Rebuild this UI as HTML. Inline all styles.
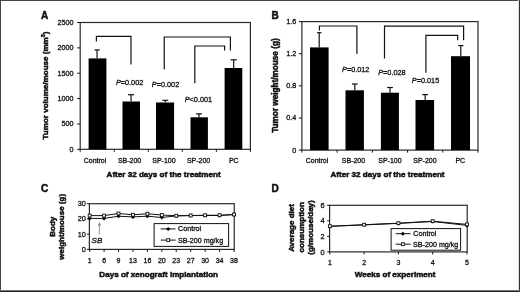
<!DOCTYPE html>
<html><head><meta charset="utf-8"><title>Figure</title>
<style>
html,body{margin:0;padding:0;background:#fff;}
body{width:520px;height:292px;overflow:hidden;position:relative;}
svg{display:block;position:absolute;left:0;top:0;font-family:"Liberation Sans",Arial,sans-serif;}
text{stroke:#111;stroke-width:0.3px;stroke-linejoin:round;}
text[font-weight="bold"]{stroke-width:0.5px;}
</style></head><body>
<svg width="520" height="292" viewBox="0 0 520 292">
<rect x="0" y="0" width="520" height="292" fill="#fff"/>

<rect x="0" y="0" width="520" height="1" fill="#444"/>
<rect x="0" y="0" width="1" height="292" fill="#444"/>
<rect x="518" y="0" width="1" height="292" fill="#ddd"/>
<rect x="519" y="0" width="1" height="292" fill="#333"/>
<rect x="0" y="290" width="520" height="1" fill="#777"/>
<rect x="0" y="291" width="520" height="1" fill="#222"/>
<rect x="80.2" y="22.5" width="170.2" height="126.80000000000001" fill="none" stroke="#2a2a2a" stroke-width="1.2"/>
<line x1="77.2" y1="22.5" x2="80.2" y2="22.5" stroke="#111" stroke-width="1"/>
<text x="73.5" y="24.9" font-size="7.2" text-anchor="end" font-weight="normal" font-style="normal" fill="#111">2500</text>
<line x1="77.2" y1="47.86" x2="80.2" y2="47.86" stroke="#111" stroke-width="1"/>
<text x="73.5" y="50.26" font-size="7.2" text-anchor="end" font-weight="normal" font-style="normal" fill="#111">2000</text>
<line x1="77.2" y1="73.22" x2="80.2" y2="73.22" stroke="#111" stroke-width="1"/>
<text x="73.5" y="75.62" font-size="7.2" text-anchor="end" font-weight="normal" font-style="normal" fill="#111">1500</text>
<line x1="77.2" y1="98.58000000000001" x2="80.2" y2="98.58000000000001" stroke="#111" stroke-width="1"/>
<text x="73.5" y="100.98000000000002" font-size="7.2" text-anchor="end" font-weight="normal" font-style="normal" fill="#111">1000</text>
<line x1="77.2" y1="123.94000000000001" x2="80.2" y2="123.94000000000001" stroke="#111" stroke-width="1"/>
<text x="73.5" y="126.34000000000002" font-size="7.2" text-anchor="end" font-weight="normal" font-style="normal" fill="#111">500</text>
<line x1="77.2" y1="149.3" x2="80.2" y2="149.3" stroke="#111" stroke-width="1"/>
<text x="73.5" y="151.70000000000002" font-size="7.2" text-anchor="end" font-weight="normal" font-style="normal" fill="#111">0</text>
<line x1="80.2" y1="149.3" x2="80.2" y2="151.8" stroke="#111" stroke-width="1"/>
<line x1="114.24000000000001" y1="149.3" x2="114.24000000000001" y2="151.8" stroke="#111" stroke-width="1"/>
<line x1="148.28" y1="149.3" x2="148.28" y2="151.8" stroke="#111" stroke-width="1"/>
<line x1="182.32" y1="149.3" x2="182.32" y2="151.8" stroke="#111" stroke-width="1"/>
<line x1="216.36" y1="149.3" x2="216.36" y2="151.8" stroke="#111" stroke-width="1"/>
<line x1="250.39999999999998" y1="149.3" x2="250.39999999999998" y2="151.8" stroke="#111" stroke-width="1"/>
<rect x="88.6" y="58.4" width="17.80000000000001" height="90.9" fill="#000"/>
<line x1="97.05000000000001" y1="49.9" x2="97.05000000000001" y2="58.4" stroke="#111" stroke-width="1.2"/>
<line x1="94.4" y1="49.9" x2="99.7" y2="49.9" stroke="#111" stroke-width="1.2"/>
<rect x="122.5" y="101.5" width="17.5" height="47.80000000000001" fill="#000"/>
<line x1="131.05" y1="94.7" x2="131.05" y2="101.5" stroke="#111" stroke-width="1.2"/>
<line x1="128" y1="94.7" x2="134.1" y2="94.7" stroke="#111" stroke-width="1.2"/>
<rect x="156" y="102.5" width="18.099999999999994" height="46.80000000000001" fill="#000"/>
<line x1="165.3" y1="100.3" x2="165.3" y2="102.5" stroke="#111" stroke-width="1.2"/>
<line x1="162.4" y1="100.3" x2="168.2" y2="100.3" stroke="#111" stroke-width="1.2"/>
<rect x="190.5" y="117.3" width="17.400000000000006" height="32.000000000000014" fill="#000"/>
<line x1="199.0" y1="113.9" x2="199.0" y2="117.3" stroke="#111" stroke-width="1.2"/>
<line x1="196" y1="113.9" x2="202" y2="113.9" stroke="#111" stroke-width="1.2"/>
<rect x="224.6" y="68" width="17.700000000000017" height="81.30000000000001" fill="#000"/>
<line x1="233.7" y1="59.8" x2="233.7" y2="68" stroke="#111" stroke-width="1.2"/>
<line x1="230.5" y1="59.8" x2="236.9" y2="59.8" stroke="#111" stroke-width="1.2"/>
<text x="95" y="162.8" font-size="7" text-anchor="middle" font-weight="normal" font-style="normal" fill="#111">Control</text>
<text x="129.6" y="162.8" font-size="7" text-anchor="middle" font-weight="normal" font-style="normal" fill="#111">SB-200</text>
<text x="163.9" y="162.8" font-size="7" text-anchor="middle" font-weight="normal" font-style="normal" fill="#111">SP-100</text>
<text x="198.6" y="162.8" font-size="7" text-anchor="middle" font-weight="normal" font-style="normal" fill="#111">SP-200</text>
<text x="233.75" y="162.8" font-size="7" text-anchor="middle" font-weight="normal" font-style="normal" fill="#111">PC</text>
<text x="115.9" y="84.6" font-size="7.3" fill="#111"><tspan font-style="italic">P</tspan>=0.002</text>
<text x="151.8" y="87.1" font-size="7.3" fill="#111"><tspan font-style="italic">P</tspan>=0.002</text>
<text x="184.7" y="102.2" font-size="7.3" fill="#111"><tspan font-style="italic">P</tspan>&lt;0.001</text>
<polyline points="96.4,41.4 96.4,36.3 131,36.3 131,64.5" fill="none" stroke="#111" stroke-width="1.2"/>
<polyline points="164.25,69.5 164.25,37 230.4,37 230.4,50.4" fill="none" stroke="#111" stroke-width="1.2"/>
<polyline points="194.8,83.3 194.8,46 224.6,46 224.6,50.4" fill="none" stroke="#111" stroke-width="1.2"/>
<text x="41.0" y="19.4" font-size="10" text-anchor="start" font-weight="bold" font-style="normal" fill="#111">A</text>
<text transform="translate(48.0 139.5) rotate(-90)" font-size="8.05" font-weight="bold" fill="#111">Tumor volume/mouse (mm<tspan font-size="5.5" dy="-2.6">3</tspan><tspan dy="2.6">)</tspan></text>
<text x="106.6" y="177" font-size="8.08" text-anchor="start" font-weight="bold" font-style="normal" fill="#111">After 32 days of the treatment</text>
<rect x="301.9" y="21.6" width="176.10000000000002" height="128.5" fill="none" stroke="#2a2a2a" stroke-width="1.2"/>
<line x1="298.9" y1="21.6" x2="301.9" y2="21.6" stroke="#111" stroke-width="1"/>
<text x="296.29999999999995" y="24.0" font-size="7.2" text-anchor="end" font-weight="normal" font-style="normal" fill="#111">1.6</text>
<line x1="298.9" y1="53.725" x2="301.9" y2="53.725" stroke="#111" stroke-width="1"/>
<text x="296.29999999999995" y="56.125" font-size="7.2" text-anchor="end" font-weight="normal" font-style="normal" fill="#111">1.2</text>
<line x1="298.9" y1="85.85" x2="301.9" y2="85.85" stroke="#111" stroke-width="1"/>
<text x="296.29999999999995" y="88.25" font-size="7.2" text-anchor="end" font-weight="normal" font-style="normal" fill="#111">0.8</text>
<line x1="298.9" y1="117.975" x2="301.9" y2="117.975" stroke="#111" stroke-width="1"/>
<text x="296.29999999999995" y="120.375" font-size="7.2" text-anchor="end" font-weight="normal" font-style="normal" fill="#111">0.4</text>
<line x1="298.9" y1="150.1" x2="301.9" y2="150.1" stroke="#111" stroke-width="1"/>
<text x="296.29999999999995" y="152.5" font-size="7.2" text-anchor="end" font-weight="normal" font-style="normal" fill="#111">0</text>
<line x1="301.9" y1="150.1" x2="301.9" y2="152.6" stroke="#111" stroke-width="1"/>
<line x1="337.12" y1="150.1" x2="337.12" y2="152.6" stroke="#111" stroke-width="1"/>
<line x1="372.34" y1="150.1" x2="372.34" y2="152.6" stroke="#111" stroke-width="1"/>
<line x1="407.56" y1="150.1" x2="407.56" y2="152.6" stroke="#111" stroke-width="1"/>
<line x1="442.78" y1="150.1" x2="442.78" y2="152.6" stroke="#111" stroke-width="1"/>
<line x1="478.0" y1="150.1" x2="478.0" y2="152.6" stroke="#111" stroke-width="1"/>
<rect x="310" y="47.4" width="18.600000000000023" height="102.69999999999999" fill="#000"/>
<line x1="319.2" y1="32.7" x2="319.2" y2="47.4" stroke="#111" stroke-width="1.2"/>
<line x1="316.9" y1="32.7" x2="321.5" y2="32.7" stroke="#111" stroke-width="1.2"/>
<rect x="345.5" y="90.3" width="18.399999999999977" height="59.8" fill="#000"/>
<line x1="354.79999999999995" y1="84" x2="354.79999999999995" y2="90.3" stroke="#111" stroke-width="1.2"/>
<line x1="351.9" y1="84" x2="357.7" y2="84" stroke="#111" stroke-width="1.2"/>
<rect x="380.9" y="92.7" width="18.0" height="57.39999999999999" fill="#000"/>
<line x1="390.0" y1="87.5" x2="390.0" y2="92.7" stroke="#111" stroke-width="1.2"/>
<line x1="387.1" y1="87.5" x2="392.9" y2="87.5" stroke="#111" stroke-width="1.2"/>
<rect x="415.5" y="100" width="18.600000000000023" height="50.099999999999994" fill="#000"/>
<line x1="425.20000000000005" y1="94.6" x2="425.20000000000005" y2="100" stroke="#111" stroke-width="1.2"/>
<line x1="422.3" y1="94.6" x2="428.1" y2="94.6" stroke="#111" stroke-width="1.2"/>
<rect x="451" y="56.2" width="19" height="93.89999999999999" fill="#000"/>
<line x1="460.79999999999995" y1="45.6" x2="460.79999999999995" y2="56.2" stroke="#111" stroke-width="1.2"/>
<line x1="458.2" y1="45.6" x2="463.4" y2="45.6" stroke="#111" stroke-width="1.2"/>
<text x="317" y="162.8" font-size="7" text-anchor="middle" font-weight="normal" font-style="normal" fill="#111">Control</text>
<text x="353.5" y="162.8" font-size="7" text-anchor="middle" font-weight="normal" font-style="normal" fill="#111">SB-200</text>
<text x="389.9" y="162.8" font-size="7" text-anchor="middle" font-weight="normal" font-style="normal" fill="#111">SP-100</text>
<text x="424.9" y="162.8" font-size="7" text-anchor="middle" font-weight="normal" font-style="normal" fill="#111">SP-200</text>
<text x="460.25" y="162.8" font-size="7" text-anchor="middle" font-weight="normal" font-style="normal" fill="#111">PC</text>
<text x="342.0" y="71.6" font-size="7.3" fill="#111"><tspan font-style="italic">P</tspan>=0.012</text>
<text x="378.2" y="75" font-size="7.3" fill="#111"><tspan font-style="italic">P</tspan>=0.028</text>
<text x="411.8" y="83.2" font-size="7.3" fill="#111"><tspan font-style="italic">P</tspan>=0.015</text>
<polyline points="319.4,30.5 319.4,26 356.9,26 356.9,54" fill="none" stroke="#111" stroke-width="1.2"/>
<polyline points="384.5,58.5 384.5,26.2 463.6,26.2 463.6,40.2" fill="none" stroke="#111" stroke-width="1.2"/>
<polyline points="425.9,72.7 425.9,35.3 457.7,35.3 457.7,40.2" fill="none" stroke="#111" stroke-width="1.2"/>
<text x="271.40000000000003" y="19.4" font-size="10" text-anchor="start" font-weight="bold" font-style="normal" fill="#111">B</text>
<text transform="translate(277.6 132.8) rotate(-90)" font-size="8.2" font-weight="bold" fill="#111">Tumor weight/mouse (g)</text>
<text x="330.5" y="177" font-size="8.08" text-anchor="start" font-weight="bold" font-style="normal" fill="#111">After 32 days of the treatment</text>
<rect x="89.4" y="203.7" width="144.85" height="45.70000000000002" fill="none" stroke="#2a2a2a" stroke-width="1.2"/>
<line x1="87.0" y1="203.7" x2="89.4" y2="203.7" stroke="#111" stroke-width="1"/>
<text x="85.80000000000001" y="206.25" font-size="7.3" text-anchor="end" font-weight="normal" font-style="normal" fill="#111">30</text>
<line x1="87.0" y1="218.93333333333334" x2="89.4" y2="218.93333333333334" stroke="#111" stroke-width="1"/>
<text x="85.80000000000001" y="221.48333333333335" font-size="7.3" text-anchor="end" font-weight="normal" font-style="normal" fill="#111">20</text>
<line x1="87.0" y1="234.16666666666666" x2="89.4" y2="234.16666666666666" stroke="#111" stroke-width="1"/>
<text x="85.80000000000001" y="236.71666666666667" font-size="7.3" text-anchor="end" font-weight="normal" font-style="normal" fill="#111">10</text>
<line x1="87.0" y1="249.4" x2="89.4" y2="249.4" stroke="#111" stroke-width="1"/>
<text x="85.80000000000001" y="251.95000000000002" font-size="7.3" text-anchor="end" font-weight="normal" font-style="normal" fill="#111">0</text>
<line x1="89.65" y1="249.4" x2="89.65" y2="251.9" stroke="#111" stroke-width="1"/>
<text x="89.65" y="262.5" font-size="7" text-anchor="middle" font-weight="normal" font-style="normal" fill="#111">1</text>
<line x1="104.08500000000001" y1="249.4" x2="104.08500000000001" y2="251.9" stroke="#111" stroke-width="1"/>
<text x="104.08500000000001" y="262.5" font-size="7" text-anchor="middle" font-weight="normal" font-style="normal" fill="#111">6</text>
<line x1="118.52000000000001" y1="249.4" x2="118.52000000000001" y2="251.9" stroke="#111" stroke-width="1"/>
<text x="118.52000000000001" y="262.5" font-size="7" text-anchor="middle" font-weight="normal" font-style="normal" fill="#111">9</text>
<line x1="132.95499999999998" y1="249.4" x2="132.95499999999998" y2="251.9" stroke="#111" stroke-width="1"/>
<text x="132.95499999999998" y="262.5" font-size="7" text-anchor="middle" font-weight="normal" font-style="normal" fill="#111">13</text>
<line x1="147.39" y1="249.4" x2="147.39" y2="251.9" stroke="#111" stroke-width="1"/>
<text x="147.39" y="262.5" font-size="7" text-anchor="middle" font-weight="normal" font-style="normal" fill="#111">16</text>
<line x1="161.825" y1="249.4" x2="161.825" y2="251.9" stroke="#111" stroke-width="1"/>
<text x="161.825" y="262.5" font-size="7" text-anchor="middle" font-weight="normal" font-style="normal" fill="#111">20</text>
<line x1="176.26" y1="249.4" x2="176.26" y2="251.9" stroke="#111" stroke-width="1"/>
<text x="176.26" y="262.5" font-size="7" text-anchor="middle" font-weight="normal" font-style="normal" fill="#111">23</text>
<line x1="190.695" y1="249.4" x2="190.695" y2="251.9" stroke="#111" stroke-width="1"/>
<text x="190.695" y="262.5" font-size="7" text-anchor="middle" font-weight="normal" font-style="normal" fill="#111">27</text>
<line x1="205.13" y1="249.4" x2="205.13" y2="251.9" stroke="#111" stroke-width="1"/>
<text x="205.13" y="262.5" font-size="7" text-anchor="middle" font-weight="normal" font-style="normal" fill="#111">30</text>
<line x1="219.565" y1="249.4" x2="219.565" y2="251.9" stroke="#111" stroke-width="1"/>
<text x="219.565" y="262.5" font-size="7" text-anchor="middle" font-weight="normal" font-style="normal" fill="#111">34</text>
<line x1="234.0" y1="249.4" x2="234.0" y2="251.9" stroke="#111" stroke-width="1"/>
<text x="234.0" y="262.5" font-size="7" text-anchor="middle" font-weight="normal" font-style="normal" fill="#111">38</text>
<polyline points="89.65,218.4 104.08500000000001,218.4 118.52000000000001,216.25 132.95499999999998,216.9 147.39,216.2 161.825,217.5 176.26,215.9 190.695,215.6 205.13,215.5 219.565,215.5 234.0,214.6" fill="none" stroke="#111" stroke-width="1"/>
<polyline points="89.65,215.6 104.08500000000001,215.6 118.52000000000001,213.5 132.95499999999998,214.75 147.39,213.75 161.825,215 176.26,215.75 190.695,215.5 205.13,215.25 219.565,215.25 234.0,214.5" fill="none" stroke="#111" stroke-width="1"/>
<polygon points="87.65,218.4 89.65,216.4 91.65,218.4 89.65,220.4" fill="#000"/>
<polygon points="102.08500000000001,218.4 104.08500000000001,216.4 106.08500000000001,218.4 104.08500000000001,220.4" fill="#000"/>
<polygon points="116.52000000000001,216.25 118.52000000000001,214.25 120.52000000000001,216.25 118.52000000000001,218.25" fill="#000"/>
<polygon points="130.95499999999998,216.9 132.95499999999998,214.9 134.95499999999998,216.9 132.95499999999998,218.9" fill="#000"/>
<polygon points="145.39,216.2 147.39,214.2 149.39,216.2 147.39,218.2" fill="#000"/>
<polygon points="159.825,217.5 161.825,215.5 163.825,217.5 161.825,219.5" fill="#000"/>
<polygon points="174.26,215.9 176.26,213.9 178.26,215.9 176.26,217.9" fill="#000"/>
<polygon points="188.695,215.6 190.695,213.6 192.695,215.6 190.695,217.6" fill="#000"/>
<polygon points="203.13,215.5 205.13,213.5 207.13,215.5 205.13,217.5" fill="#000"/>
<polygon points="217.565,215.5 219.565,213.5 221.565,215.5 219.565,217.5" fill="#000"/>
<polygon points="232.0,214.6 234.0,212.6 236.0,214.6 234.0,216.6" fill="#000"/>
<rect x="88.2" y="214.15" width="2.9" height="2.9" fill="#fff" stroke="#111" stroke-width="0.9"/>
<rect x="102.635" y="214.15" width="2.9" height="2.9" fill="#fff" stroke="#111" stroke-width="0.9"/>
<rect x="117.07000000000001" y="212.05" width="2.9" height="2.9" fill="#fff" stroke="#111" stroke-width="0.9"/>
<rect x="131.505" y="213.3" width="2.9" height="2.9" fill="#fff" stroke="#111" stroke-width="0.9"/>
<rect x="145.94" y="212.3" width="2.9" height="2.9" fill="#fff" stroke="#111" stroke-width="0.9"/>
<rect x="160.375" y="213.55" width="2.9" height="2.9" fill="#fff" stroke="#111" stroke-width="0.9"/>
<rect x="174.81" y="214.3" width="2.9" height="2.9" fill="#fff" stroke="#111" stroke-width="0.9"/>
<rect x="189.245" y="214.05" width="2.9" height="2.9" fill="#fff" stroke="#111" stroke-width="0.9"/>
<rect x="203.68" y="213.8" width="2.9" height="2.9" fill="#fff" stroke="#111" stroke-width="0.9"/>
<rect x="218.115" y="213.8" width="2.9" height="2.9" fill="#fff" stroke="#111" stroke-width="0.9"/>
<rect x="232.55" y="213.05" width="2.9" height="2.9" fill="#fff" stroke="#111" stroke-width="0.9"/>
<line x1="99.4" y1="224" x2="99.4" y2="234.5" stroke="#888" stroke-width="0.9"/>
<polygon points="99.4,222 97.7,225.4 101.1,225.4" fill="#888"/>
<text x="91.6" y="242.6" font-size="8" text-anchor="start" font-weight="normal" font-style="italic" fill="#111">SB</text>
<rect x="154.1" y="223.6" width="74.5" height="22.8" fill="#fff" stroke="#111" stroke-width="1"/>
<line x1="160.7" y1="228.9" x2="175.6" y2="228.9" stroke="#111" stroke-width="1"/>
<polygon points="166.2,228.9 168.2,226.9 170.2,228.9 168.2,230.9" fill="#000"/>
<text x="178.1" y="231.4" font-size="7.15" text-anchor="start" font-weight="normal" font-style="normal" fill="#111">Control</text>
<line x1="160.7" y1="240.1" x2="175.6" y2="240.1" stroke="#111" stroke-width="1"/>
<rect x="166.75" y="238.65" width="2.9" height="2.9" fill="#fff" stroke="#111" stroke-width="0.9"/>
<text x="177.9" y="242.6" font-size="7.15" text-anchor="start" font-weight="normal" font-style="normal" fill="#111">SB-200 mg/kg</text>
<text x="41.0" y="191.9" font-size="10" text-anchor="start" font-weight="bold" font-style="normal" fill="#111">C</text>
<text transform="translate(54.6 226.7) rotate(-90)" font-size="8" font-weight="bold" text-anchor="middle" fill="#111">Body</text>
<text transform="translate(64.4 226.8) rotate(-90)" font-size="8" font-weight="bold" text-anchor="middle" fill="#111">weight/mouse (g)</text>
<text x="99.3" y="277.4" font-size="8.1" text-anchor="start" font-weight="bold" font-style="normal" fill="#111">Days of xenograft implantation</text>
<rect x="329.6" y="205.3" width="137.59999999999997" height="46.599999999999994" fill="none" stroke="#2a2a2a" stroke-width="1.2"/>
<line x1="327.20000000000005" y1="205.3" x2="329.6" y2="205.3" stroke="#111" stroke-width="1"/>
<text x="324.6" y="207.9" font-size="7.3" text-anchor="end" font-weight="normal" font-style="normal" fill="#111">6</text>
<line x1="327.20000000000005" y1="220.83333333333334" x2="329.6" y2="220.83333333333334" stroke="#111" stroke-width="1"/>
<text x="324.6" y="223.43333333333334" font-size="7.3" text-anchor="end" font-weight="normal" font-style="normal" fill="#111">4</text>
<line x1="327.20000000000005" y1="236.36666666666667" x2="329.6" y2="236.36666666666667" stroke="#111" stroke-width="1"/>
<text x="324.6" y="238.96666666666667" font-size="7.3" text-anchor="end" font-weight="normal" font-style="normal" fill="#111">2</text>
<line x1="327.20000000000005" y1="251.9" x2="329.6" y2="251.9" stroke="#111" stroke-width="1"/>
<text x="324.6" y="254.5" font-size="7.3" text-anchor="end" font-weight="normal" font-style="normal" fill="#111">0</text>
<line x1="329.85" y1="251.9" x2="329.85" y2="254.4" stroke="#111" stroke-width="1"/>
<text x="329.85" y="265.3" font-size="7" text-anchor="middle" font-weight="normal" font-style="normal" fill="#111">1</text>
<line x1="364.125" y1="251.9" x2="364.125" y2="254.4" stroke="#111" stroke-width="1"/>
<text x="364.125" y="265.3" font-size="7" text-anchor="middle" font-weight="normal" font-style="normal" fill="#111">2</text>
<line x1="398.4" y1="251.9" x2="398.4" y2="254.4" stroke="#111" stroke-width="1"/>
<text x="398.4" y="265.3" font-size="7" text-anchor="middle" font-weight="normal" font-style="normal" fill="#111">3</text>
<line x1="432.675" y1="251.9" x2="432.675" y2="254.4" stroke="#111" stroke-width="1"/>
<text x="432.675" y="265.3" font-size="7" text-anchor="middle" font-weight="normal" font-style="normal" fill="#111">4</text>
<line x1="466.95" y1="251.9" x2="466.95" y2="254.4" stroke="#111" stroke-width="1"/>
<text x="466.95" y="265.3" font-size="7" text-anchor="middle" font-weight="normal" font-style="normal" fill="#111">5</text>
<polyline points="329.85,226.4 364.125,224.9 398.4,223.4 432.675,221.5 466.95,225.4" fill="none" stroke="#111" stroke-width="1"/>
<polyline points="329.85,226.2 364.125,224.7 398.4,223.2 432.675,221.2 466.95,224.4" fill="none" stroke="#111" stroke-width="1"/>
<polygon points="327.85,226.4 329.85,224.4 331.85,226.4 329.85,228.4" fill="#000"/>
<polygon points="362.125,224.9 364.125,222.9 366.125,224.9 364.125,226.9" fill="#000"/>
<polygon points="396.4,223.4 398.4,221.4 400.4,223.4 398.4,225.4" fill="#000"/>
<polygon points="430.675,221.5 432.675,219.5 434.675,221.5 432.675,223.5" fill="#000"/>
<polygon points="464.95,225.4 466.95,223.4 468.95,225.4 466.95,227.4" fill="#000"/>
<rect x="328.40000000000003" y="224.75" width="2.9" height="2.9" fill="#fff" stroke="#111" stroke-width="0.9"/>
<rect x="362.675" y="223.25" width="2.9" height="2.9" fill="#fff" stroke="#111" stroke-width="0.9"/>
<rect x="396.95" y="221.75" width="2.9" height="2.9" fill="#fff" stroke="#111" stroke-width="0.9"/>
<rect x="431.225" y="219.75" width="2.9" height="2.9" fill="#fff" stroke="#111" stroke-width="0.9"/>
<rect x="465.5" y="222.95000000000002" width="2.9" height="2.9" fill="#fff" stroke="#111" stroke-width="0.9"/>
<rect x="391.1" y="228.6" width="69.5" height="21.6" fill="#fff" stroke="#111" stroke-width="1"/>
<line x1="395.7" y1="233.7" x2="410.6" y2="233.7" stroke="#111" stroke-width="1"/>
<polygon points="400.9,233.7 402.9,231.7 404.9,233.7 402.9,235.7" fill="#000"/>
<text x="413.3" y="236.1" font-size="7.15" text-anchor="start" font-weight="normal" font-style="normal" fill="#111">Control</text>
<line x1="395.7" y1="244.2" x2="410.6" y2="244.2" stroke="#111" stroke-width="1"/>
<rect x="401.45" y="242.75" width="2.9" height="2.9" fill="#fff" stroke="#111" stroke-width="0.9"/>
<text x="413.1" y="246.6" font-size="7.15" text-anchor="start" font-weight="normal" font-style="normal" fill="#111">SB-200 mg/kg</text>
<text x="271.4" y="191.9" font-size="10" text-anchor="start" font-weight="bold" font-style="normal" fill="#111">D</text>
<text transform="translate(293.5 228.0) rotate(-90)" font-size="8" font-weight="bold" text-anchor="middle" fill="#111">Average diet</text>
<text transform="translate(303.5 227.3) rotate(-90)" font-size="8" font-weight="bold" text-anchor="middle" fill="#111">consumption</text>
<text transform="translate(312.9 227.5) rotate(-90)" font-size="8.05" font-weight="bold" text-anchor="middle" fill="#111">(g/mouse/day)</text>
<text x="354.8" y="277.4" font-size="8.08" text-anchor="start" font-weight="bold" font-style="normal" fill="#111">Weeks of experiment</text>
</svg>
</body></html>
